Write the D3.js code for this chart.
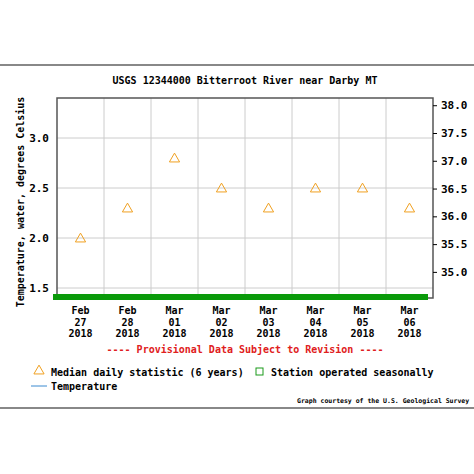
<!DOCTYPE html><html><head><meta charset="utf-8"><script src="https://d3js.org/d3.v7.min.js"></script>
<style>body{margin:0;background:#fff;overflow:hidden}text{font-family:"DejaVu Sans Mono",monospace;font-weight:bold}</style></head><body><svg id="c" width="474" height="474"></svg><script>
const days=["2018-02-27","2018-02-28","2018-03-01","2018-03-02","2018-03-03","2018-03-04","2018-03-05","2018-03-06"];
const dayLabels=[["Feb","27","2018"],["Feb","28","2018"],["Mar","01","2018"],["Mar","02","2018"],["Mar","03","2018"],["Mar","04","2018"],["Mar","05","2018"],["Mar","06","2018"]];
const medians=[2.0,2.3,2.8,2.5,2.3,2.5,2.5,2.3];
const leftTicks=[1.5,2.0,2.5,3.0];
const rightTicks=[35.0,35.5,36.0,36.5,37.0,37.5,38.0];
const svg=d3.select("#c");
const L=57,R=433,T=98,B=298;
const pd=d3.timeParse("%Y-%m-%d");
const x=d3.scaleTime().domain([pd(days[0]),d3.timeDay.offset(pd(days[7]),1)]).range([L,R]);
const y=d3.scaleLinear().domain([1.4,3.4]).range([B,T]);
const y2=d3.scaleLinear().domain([34.53,38.13]).range([B,T]);
svg.append("line").attr("x1",0).attr("x2",474).attr("y1",65).attr("y2",65).attr("stroke","#888").attr("stroke-width",2);
svg.append("line").attr("x1",0).attr("x2",474).attr("y1",408).attr("y2",408).attr("stroke","#888").attr("stroke-width",2);
svg.append("text").attr("x",245).attr("y",84).attr("text-anchor","middle").attr("font-size",10).text("USGS 12344000 Bitterroot River near Darby MT");
const g=svg.append("g");
days.slice(1).forEach(d=>g.append("line").attr("x1",x(pd(d))).attr("x2",x(pd(d))).attr("y1",T).attr("y2",B).attr("stroke","#ccc"));
leftTicks.forEach(v=>g.append("line").attr("x1",L).attr("x2",R).attr("y1",y(v)).attr("y2",y(v)).attr("stroke","#ccc"));
g.append("rect").attr("x",L).attr("y",T).attr("width",R-L).attr("height",B-T).attr("fill","none").attr("stroke","#555").attr("stroke-width",1.5);
svg.append("g").attr("transform",`translate(${L},0)`).call(d3.axisLeft(y).tickValues(leftTicks).tickFormat(d3.format(".1f")).tickSize(0).tickPadding(8))
 .call(a=>{a.select(".domain").remove();a.selectAll("text").attr("font-size",11).attr("font-family","DejaVu Sans Mono").attr("font-weight","bold");});
svg.append("g").attr("transform",`translate(${R},0)`).call(d3.axisRight(y2).tickValues(rightTicks).tickFormat(d3.format(".1f")).tickSize(4).tickPadding(4))
 .call(a=>{a.select(".domain").remove();a.selectAll("text").attr("font-size",11).attr("font-family","DejaVu Sans Mono").attr("font-weight","bold");});
svg.append("text").attr("transform",`translate(24,${(T+B)/2+4}) rotate(-90)`).attr("text-anchor","middle").attr("font-size",10).text("Temperature, water, degrees Celsius");
svg.append("rect").attr("x",53).attr("y",294).attr("width",375).attr("height",6).attr("fill","#0a9a0a");
const tri=d3.symbol().type(d3.symbolTriangle).size(45);
days.forEach((d,i)=>{const cx=x(d3.timeHour.offset(pd(d),12));
 svg.append("path").attr("d",tri).attr("transform",`translate(${cx},${y(medians[i])+1})`).attr("fill","none").attr("stroke","#f0a020").attr("stroke-width",1);
 dayLabels[i].forEach((t,j)=>svg.append("text").attr("x",cx).attr("y",314+j*11.5).attr("text-anchor","middle").attr("font-size",10).text(t));
});
svg.append("text").attr("x",245).attr("y",353).attr("text-anchor","middle").attr("font-size",10).attr("fill","#e02020").text("---- Provisional Data Subject to Revision ----");
svg.append("path").attr("d",tri).attr("transform","translate(39,371)").attr("fill","none").attr("stroke","#f0a020");
svg.append("text").attr("x",51).attr("y",376).attr("font-size",10).text("Median daily statistic (6 years)");
svg.append("rect").attr("x",256).attr("y",368).attr("width",7).attr("height",7).attr("fill","none").attr("stroke","#1a9a1a");
svg.append("text").attr("x",271).attr("y",376).attr("font-size",10).text("Station operated seasonally");
svg.append("line").attr("x1",31).attr("x2",47).attr("y1",386).attr("y2",386).attr("stroke","#3a8ad0");
svg.append("text").attr("x",51).attr("y",390).attr("font-size",10).text("Temperature");
svg.append("text").attr("x",297).attr("y",403).attr("font-size",6.5).attr("font-weight","normal").text("Graph courtesy of the U.S. Geological Survey");
</script></body></html>
